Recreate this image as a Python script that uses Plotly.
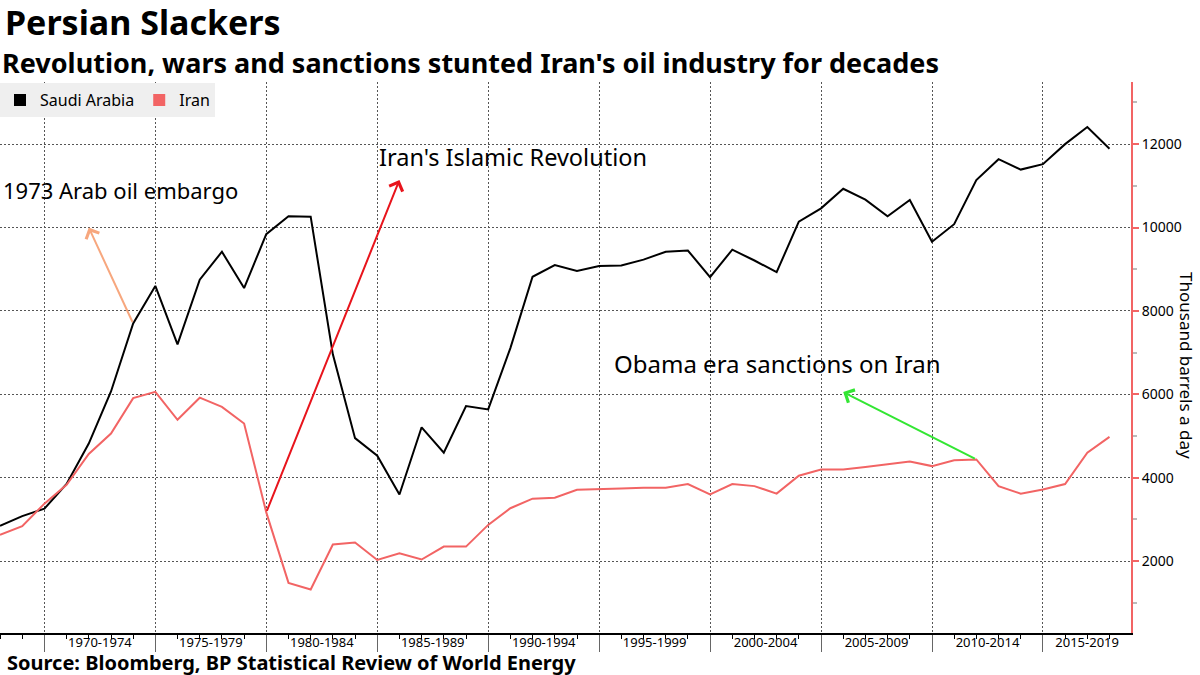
import plotly.graph_objects as go

years = list(range(1967, 2018))
saudi = [2850, 3080, 3260, 3850, 4820, 6070, 7700, 8600, 7200, 8750,
         9420, 8550, 9840, 10270, 10260, 6960, 4950, 4530, 3600, 5210,
         4600, 5720, 5640, 7110, 8820, 9100, 8960, 9080, 9090, 9230,
         9420, 9450, 8810, 9470, 9210, 8930, 10140, 10460, 10930, 10670,
         10270, 10660, 9660, 10080, 11140, 11640, 11390, 11520, 12000, 12410,
         11890]
iran = [2630, 2840, 3380, 3830, 4570, 5060, 5910, 6060, 5390, 5920,
        5700, 5300, 3170, 1480, 1320, 2400, 2450, 2030, 2190, 2040,
        2350, 2350, 2870, 3270, 3500, 3520, 3710, 3720, 3740, 3760,
        3760, 3850, 3600, 3850, 3800, 3620, 4050, 4200, 4200, 4260,
        4330, 4390, 4280, 4420, 4440, 3800, 3620, 3720, 3850, 4600,
        4980]
period_labels = ["1970-1974", "1975-1979", "1980-1984", "1985-1989", "1990-1994",
                 "1995-1999", "2000-2004", "2005-2009", "2010-2014", "2015-2019"]
period_starts = [1970, 1975, 1980, 1985, 1990, 1995, 2000, 2005, 2010, 2015]
y_ticks = [2000, 4000, 6000, 8000, 10000, 12000]

x_dates = [f"{y}-12-31" for y in years]
x_range = ["1967-12-31", "2018-12-20"]
label_pos = [f"{s+2}-07-02" for s in period_starts[:-1]] + ["2016-12-28"]
grid_pos = [f"{s}-01-01" for s in period_starts]

SAUDI_C = "#000000"
IRAN_C = "#f26464"
FONT = "Noto Sans"

fig = go.Figure()
fig.add_trace(go.Scatter(x=x_dates, y=saudi, mode="lines", name="Saudi Arabia",
                         line=dict(color=SAUDI_C, width=2), showlegend=False))
fig.add_trace(go.Scatter(x=x_dates, y=iran, mode="lines", name="Iran",
                         line=dict(color=IRAN_C, width=2), showlegend=False))
# legend squares
fig.add_trace(go.Scatter(x=[None], y=[None], mode="markers", name="Saudi Arabia",
                         marker=dict(symbol="square", size=13, color=SAUDI_C)))
fig.add_trace(go.Scatter(x=[None], y=[None], mode="markers", name="Iran",
                         marker=dict(symbol="square", size=13, color=IRAN_C)))
# dummy trace for label axis
fig.add_trace(go.Scatter(x=[x_range[0]], y=[None], xaxis="x2", mode="markers",
                         showlegend=False, hoverinfo="skip"))

fig.update_layout(
    width=1200, height=675,
    margin=dict(l=0, r=69, t=82, b=42),
    paper_bgcolor="white", plot_bgcolor="white",
    font=dict(family=FONT, color="black"),
    xaxis=dict(type="date", range=x_range, tickvals=grid_pos,
               ticktext=["" for _ in grid_pos],
               showgrid=True, gridcolor="#555", gridwidth=1, griddash="2px,2px",
               ticks="outside", ticklen=17, tickcolor="#666", tickwidth=1,
               showline=True, linecolor="black", linewidth=2,
               minor=dict(ticks="outside", ticklen=4, dtick="M12",
                          tick0="1968-01-01", tickcolor="black", showgrid=False),
               zeroline=False),
    xaxis2=dict(type="date", range=x_range, overlaying="x", anchor="y", side="bottom",
                tickvals=label_pos, ticktext=period_labels, ticks="",
                showgrid=False, showline=False, zeroline=False,
                tickfont=dict(size=13, color="black", family=FONT)),
    yaxis=dict(side="right", range=[278, 13490], tickvals=y_ticks, tickformat="d",
               showgrid=True, gridcolor="#555", gridwidth=1, griddash="2px,2px",
               ticks="outside", ticklen=6, tickwidth=2, tickcolor=IRAN_C,
               showline=True, linecolor=IRAN_C, linewidth=2,
               minor=dict(ticks="outside", ticklen=4, dtick=1000, tick0=1000,
                          tickcolor="#bbb", showgrid=False),
               tickfont=dict(size=14, color="black"), zeroline=False),
    legend=dict(x=0, y=0.998, xanchor="left", yanchor="top", orientation="h",
                bgcolor="#efefef", font=dict(size=16), itemsizing="constant",
                itemwidth=30, traceorder="normal"),
    showlegend=True,
)

annots = [
    dict(text="<b>Persian Slackers</b>", x=0.003, y=(633-22)/551, font=dict(size=34)),
    dict(text="<b>Revolution, wars and sanctions stunted Iran's oil industry for decades</b>",
         x=0.0, y=(633-63)/551, font=dict(size=27)),
    dict(text="<b>Source: Bloomberg, BP Statistical Review of World Energy</b>",
         x=0.004, y=(633-662)/551, font=dict(size=20)),
]
for a in annots:
    fig.add_annotation(xref="paper", yref="paper", xanchor="left", yanchor="middle",
                       showarrow=False, **a)

fig.add_annotation(xref="paper", yref="paper", x=(1187)/1131, y=(633-365)/551,
                   text="Thousand barrels a day", textangle=90, showarrow=False,
                   font=dict(size=17), xanchor="center", yanchor="middle")

# text annotations
fig.add_annotation(x="1968-01-20", y=10900, text="1973 Arab oil embargo", showarrow=False,
                   xanchor="left", yanchor="middle", font=dict(size=22))
fig.add_annotation(x="1985-01-01", y=11690, text="Iran's Islamic Revolution", showarrow=False,
                   xanchor="left", yanchor="middle", font=dict(size=23.5))
fig.add_annotation(x="1995-08-01", y=6750, text="Obama era sanctions on Iran", showarrow=False,
                   xanchor="left", yanchor="middle", font=dict(size=24))

# arrows
fig.add_annotation(x="1971-12-31", y=10000, ax="1973-12-31", ay=7700,
                   axref="x", ayref="y", showarrow=True, arrowhead=4, arrowsize=1.4,
                   arrowwidth=2, arrowcolor="#f7a77e", text="")
fig.add_annotation(x="1985-12-31", y=11140, ax="1979-12-31", ay=3170,
                   axref="x", ayref="y", showarrow=True, arrowhead=4, arrowsize=1.4,
                   arrowwidth=2, arrowcolor="#e8141c", text="")
fig.add_annotation(x="2005-12-31", y=6055, ax="2011-12-31", ay=4440,
                   axref="x", ayref="y", showarrow=True, arrowhead=4, arrowsize=1.4,
                   arrowwidth=2, arrowcolor="#33e633", text="")

fig.write_html("out.html")
